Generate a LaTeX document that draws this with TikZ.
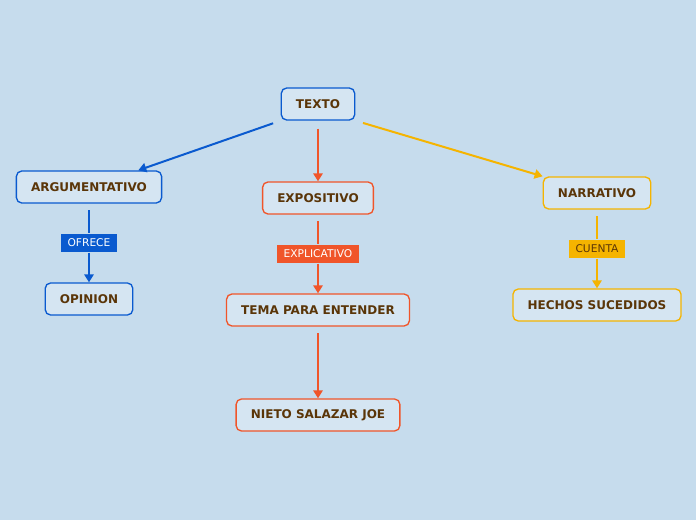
\documentclass[tikz,border=0pt]{standalone}
\usepackage{fontspec}
\setmainfont{DejaVu Sans}
\usetikzlibrary{arrows.meta, positioning}
\definecolor{Sky}{HTML}{C6DCED}
\definecolor{BoxFill}{HTML}{D5E5F2}
\definecolor{Blue}{HTML}{0A5ACF}
\definecolor{Flame}{HTML}{F0552A}
\definecolor{Gold}{HTML}{F5B400}
\definecolor{Brown}{HTML}{5A3508}
\tikzset{
    topic/.style={rectangle, rounded corners=4pt, fill=BoxFill, draw=#1,
                  line width=1pt, font=\fontsize{9}{10}\selectfont\bfseries,
                  text=Brown, minimum height=24pt, inner xsep=11pt},
    tag/.style={rectangle, fill=#1, font=\fontsize{8}{9}\selectfont,
                text=white, minimum height=14pt, inner xsep=5pt},
    link/.style={draw=#1, line width=1.5pt, -{Triangle[length=6pt,width=7pt]}}
}
\begin{document}
\begin{tikzpicture}[x=0.75pt, y=-0.75pt]
    \useasboundingbox[fill=Sky] (0,0) rectangle (696,520);

    % Central node
    \node[topic=Blue] (texto) at (318,104) {TEXTO};

    % Argumentativo branch
    \node[topic=Blue] (argu) at (89,187) {ARGUMENTATIVO};
    \node[topic=Blue] (opinion) at (89,299) {OPINION};
    \node[tag=Blue] (ofrece) at (89,243) {OFRECE};

    % Expositivo branch
    \node[topic=Flame] (expo) at (318,198) {EXPOSITIVO};
    \node[topic=Flame] (tema) at (318,310) {TEMA PARA ENTENDER};
    \node[topic=Flame] (nieto) at (318,415) {NIETO SALAZAR JOE};
    \node[tag=Flame] (explica) at (318,254) {EXPLICATIVO};

    % Narrativo branch
    \node[topic=Gold] (narra) at (597,193) {NARRATIVO};
    \node[topic=Gold] (hechos) at (597,305) {HECHOS SUCEDIDOS};
    \node[tag=Gold, text=Brown] (cuenta) at (597,249) {CUENTA};

    % Connectors
    \draw[link=Blue, shorten <=6pt] (texto.south west) -- ([xshift=-18pt]argu.north east);
    \draw[link=Flame, shorten <=6pt] (texto) -- (expo);
    \draw[link=Gold, shorten <=6pt] (texto.south east) -- (narra.north west);
    \draw[draw=Blue, line width=1.5pt, shorten <=5pt] (argu) -- (ofrece);
    \draw[link=Blue] (ofrece) -- (opinion);
    \draw[draw=Flame, line width=1.5pt, shorten <=5pt] (expo) -- (explica);
    \draw[link=Flame] (explica) -- (tema);
    \draw[link=Flame, shorten <=5pt] (tema) -- (nieto);
    \draw[draw=Gold, line width=1.5pt, shorten <=5pt] (narra) -- (cuenta);
    \draw[link=Gold] (cuenta) -- (hechos);
\end{tikzpicture}
\end{document}
